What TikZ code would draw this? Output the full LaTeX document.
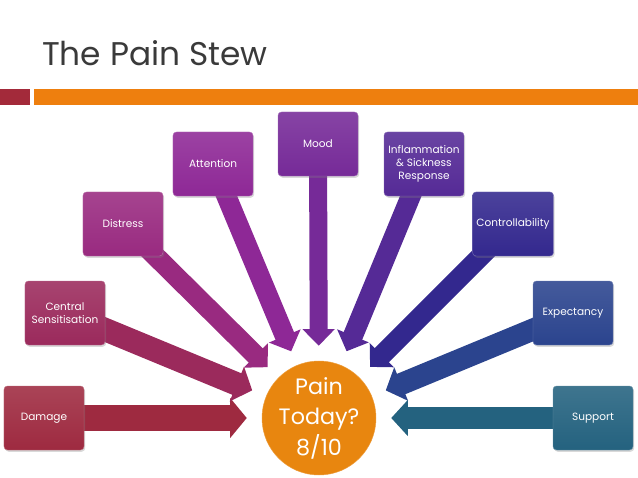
\documentclass[tikz,border=0pt]{standalone}
\usepackage{fontspec}
\setmainfont{Poppins}
\usepackage{tikz}
\usetikzlibrary{arrows.meta, positioning, shadows, backgrounds}
\definecolor{titlecolor}{HTML}{3A3A3A}
\definecolor{barred}{HTML}{A32A3A}
\definecolor{barorange}{HTML}{EE7F0E}
\definecolor{paincolor}{HTML}{E8860F}
\definecolor{damagecolor}{HTML}{9E2A40}
\definecolor{centralcolor}{HTML}{9B2A5C}
\definecolor{distresscolor}{HTML}{992A80}
\definecolor{attentioncolor}{HTML}{8E2896}
\definecolor{moodcolor}{HTML}{762A98}
\definecolor{inflamcolor}{HTML}{552A96}
\definecolor{controlcolor}{HTML}{33288E}
\definecolor{expectcolor}{HTML}{2B448E}
\definecolor{supportcolor}{HTML}{24627F}

\begin{document}
\begin{tikzpicture}[x=0.03cm, y=-0.03cm,
  factor/.style={rectangle, rounded corners=3pt, draw=#1!70!white, thin,
    top color=#1!88!white, bottom color=#1, minimum width=2.4cm, minimum height=1.92cm,
    text=white, align=center, font=\fontsize{9}{11}\selectfont,
    drop shadow={opacity=0.3, shadow xshift=1pt, shadow yshift=-1.5pt}},
  feed/.style={draw=#1, shorten >=0.45cm, -{Triangle[length=0.5cm, width=0.4cm 1]}}]

  \useasboundingbox (0,0) rectangle (638,478);

  % Title and bar
  \node[anchor=base west, text=titlecolor, font=\fontsize{28}{30}\selectfont, inner sep=0pt] (title) at (42,66) {The Pain Stew};
  \fill[barred] (0,89) rectangle (30,105);
  \fill[barorange] (34,89) rectangle (638,105);

  % Pain
  \node[circle, fill=paincolor, draw=paincolor!80!white, minimum size=3.42cm, inner sep=-6pt,
    text=white, align=center, font=\fontsize{19}{26}\selectfont] (pain) at (319,418) {Pain\\Today?\\8/10};

  % Factors
  \node[factor=damagecolor] (damage) at (44,418) {Damage};
  \node[factor=centralcolor] (central) at (65,313) {Central\\Sensitisation};
  \node[factor=distresscolor] (distress) at (123,224) {Distress};
  \node[factor=attentioncolor] (attention) at (213,164) {Attention};
  \node[factor=moodcolor] (mood) at (318,144) {Mood};
  \node[factor=inflamcolor] (inflam) at (424,164) {Inflammation\\\& Sickness\\Response};
  \node[factor=controlcolor] (control) at (513,224) {Controllability};
  \node[factor=expectcolor] (expect) at (573,313) {Expectancy};
  \node[factor=supportcolor] (support) at (593,418) {Support};

  % Arrows
  \begin{scope}[on background layer]
    \draw[feed=damagecolor, line width=0.78cm] (damage.center) -- (pain);
    \draw[feed=centralcolor, line width=0.7cm] (central.center) -- (pain);
    \draw[feed=distresscolor, line width=0.6cm] (distress.center) -- (pain);
    \draw[feed=attentioncolor, line width=0.6cm] (attention.center) -- (pain);
    \draw[feed=moodcolor, line width=0.54cm] (mood.center) -- (pain);
    \draw[feed=inflamcolor, line width=0.6cm] (inflam.center) -- (pain);
    \draw[feed=controlcolor, line width=0.6cm] (control.center) -- (pain);
    \draw[feed=expectcolor, line width=0.66cm] (expect.center) -- (pain);
    \draw[feed=supportcolor, line width=0.66cm] (support.center) -- (pain);
  \end{scope}

\end{tikzpicture}
\end{document}
